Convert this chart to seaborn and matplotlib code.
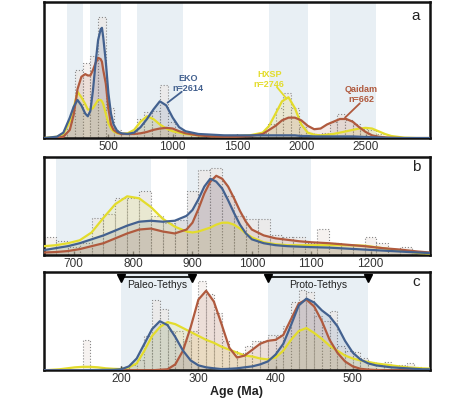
import numpy as np
import pandas as pd
import matplotlib
matplotlib.use('Agg')
import matplotlib.pyplot as plt
import seaborn as sns

# colours of the three samples
c_blue = '#43618f'
c_red = '#b05a3e'
c_yel = '#e3dc2c'
c_band = '#e8eff4'

# ---------------- panel a (0-3000 Ma) ----------------
x_a = [0, 100, 150, 200, 230, 260, 290, 320, 340, 360, 380, 400, 420, 440, 450, 460, 480,
       500, 520, 540, 570, 600, 650, 700, 750, 800, 850, 900, 950, 1000, 1050, 1100, 1200,
       1300, 1400, 1500, 1600, 1700, 1750, 1800, 1850, 1900, 1950, 2000, 2050, 2100, 2150,
       2200, 2250, 2300, 2350, 2400, 2450, 2500, 2550, 2600, 2650, 2700, 2800, 2900, 3000]
eko_a = [0, 0.01, 0.04, 0.15, 0.23, 0.28, 0.24, 0.18, 0.16, 0.20, 0.35, 0.55, 0.72, 0.80, 0.81, 0.74, 0.56,
         0.33, 0.18, 0.10, 0.05, 0.035, 0.03, 0.04, 0.08, 0.14, 0.21, 0.27, 0.24, 0.15, 0.08, 0.05, 0.03,
         0.025, 0.02, 0.02, 0.02, 0.02, 0.02, 0.02, 0.02, 0.02, 0.02, 0.015, 0.015, 0.012, 0.012,
         0.012, 0.012, 0.012, 0.012, 0.012, 0.01, 0.008, 0.006, 0.004, 0.002, 0.001, 0, 0, 0]
qai_a = [0, 0, 0.01, 0.06, 0.17, 0.36, 0.45, 0.47, 0.46, 0.46, 0.50, 0.55, 0.59, 0.58, 0.56, 0.50, 0.40,
         0.22, 0.10, 0.06, 0.04, 0.03, 0.03, 0.03, 0.035, 0.045, 0.06, 0.07, 0.075, 0.07, 0.05, 0.035, 0.02,
         0.012, 0.01, 0.01, 0.015, 0.03, 0.06, 0.09, 0.13, 0.15, 0.15, 0.13, 0.09, 0.065, 0.07,
         0.10, 0.12, 0.14, 0.14, 0.12, 0.08, 0.045, 0.02, 0.01, 0.005, 0.002, 0, 0, 0]
hxs_a = [0, 0.01, 0.03, 0.12, 0.22, 0.34, 0.30, 0.25, 0.21, 0.21, 0.22, 0.25, 0.28, 0.28, 0.27, 0.25, 0.18,
         0.11, 0.07, 0.05, 0.035, 0.03, 0.035, 0.06, 0.12, 0.16, 0.14, 0.10, 0.07, 0.05, 0.04, 0.03, 0.02,
         0.015, 0.015, 0.015, 0.02, 0.04, 0.09, 0.18, 0.27, 0.30, 0.22, 0.10, 0.04, 0.025, 0.02,
         0.025, 0.03, 0.04, 0.05, 0.06, 0.07, 0.075, 0.07, 0.05, 0.03, 0.015, 0.003, 0, 0]
hist_a_left = [120, 180, 240, 300, 360, 420, 480, 540, 600, 660, 720, 780, 840, 900, 960, 1020, 1080,
               1140, 1200, 1260, 1320, 1380, 1440, 1500, 1560, 1620, 1680, 1740, 1800, 1860, 1920,
               1980, 2040, 2100, 2160, 2220, 2280, 2340, 2400, 2460, 2520, 2580]
hist_a = [0.02, 0.12, 0.50, 0.55, 0.60, 0.89, 0.22, 0.06, 0.03, 0.03, 0.14, 0.19, 0.20, 0.39, 0.12, 0.05, 0.03,
          0.02, 0.02, 0.02, 0.015, 0.015, 0.02, 0.02, 0.02, 0.025, 0.04, 0.10, 0.22, 0.33, 0.22,
          0.08, 0.04, 0.03, 0.04, 0.12, 0.18, 0.13, 0.10, 0.07, 0.06, 0.03]
bands_a = [(180, 300), (360, 600), (720, 1080), (1750, 2050), (2220, 2580)]

# ---------------- panel b (650-1300 Ma) ----------------
x_b = [650, 670, 690, 710, 730, 750, 770, 790, 810, 830, 850, 870, 890, 900, 910, 920, 930, 940,
       950, 960, 970, 980, 990, 1000, 1020, 1040, 1060, 1080, 1100, 1130, 1160, 1190, 1220, 1250, 1280, 1300]
hxs_b = [0.09, 0.10, 0.12, 0.15, 0.23, 0.38, 0.52, 0.60, 0.58, 0.49, 0.37, 0.29, 0.24, 0.23, 0.24, 0.26, 0.28, 0.31,
         0.33, 0.33, 0.31, 0.27, 0.22, 0.18, 0.13, 0.11, 0.10, 0.10, 0.10, 0.10, 0.10, 0.095, 0.07, 0.045, 0.02, 0.015]
eko_b = [0.05, 0.07, 0.09, 0.12, 0.16, 0.20, 0.25, 0.30, 0.34, 0.35, 0.34, 0.35, 0.40, 0.46, 0.57, 0.70, 0.78, 0.75,
         0.68, 0.56, 0.43, 0.31, 0.22, 0.16, 0.12, 0.10, 0.09, 0.085, 0.08, 0.075, 0.065, 0.055, 0.045, 0.035, 0.025, 0.02]
qai_b = [0.025, 0.03, 0.04, 0.06, 0.09, 0.12, 0.17, 0.22, 0.26, 0.27, 0.24, 0.22, 0.26, 0.33, 0.47, 0.63, 0.75, 0.81,
         0.78, 0.70, 0.58, 0.45, 0.34, 0.26, 0.20, 0.17, 0.155, 0.14, 0.13, 0.12, 0.105, 0.09, 0.07, 0.055, 0.035, 0.025]
hist_b_left = [650, 670, 690, 710, 730, 750, 770, 790, 810, 830, 850, 870, 890, 910, 930, 950, 970, 990,
               1010, 1030, 1050, 1070, 1090, 1110, 1130, 1150, 1170, 1190, 1210, 1230, 1250, 1270]
hist_b = [0.18, 0.14, 0.08, 0.12, 0.38, 0.42, 0.58, 0.58, 0.65, 0.40, 0.33, 0.36, 0.65, 0.87, 0.89, 0.60, 0.40, 0.37,
          0.37, 0.20, 0.18, 0.18, 0.12, 0.27, 0.12, 0.10, 0.10, 0.18, 0.12, 0.06, 0.08, 0.03]
bands_b = [(670, 830), (890, 1100)]

# ---------------- panel c (100-600 Ma) ----------------
x_c = list(range(100, 601, 10))
hxs_c = [0, 0.005, 0.01, 0.02, 0.03, 0.035, 0.035, 0.03, 0.02, 0.015, 0.012, 0.03, 0.07, 0.20, 0.35, 0.44,
         0.49, 0.47, 0.43, 0.39, 0.35, 0.31, 0.28, 0.24, 0.21, 0.18, 0.15, 0.14, 0.12, 0.11, 0.13, 0.20,
         0.31, 0.40, 0.43, 0.38, 0.32, 0.25, 0.20, 0.15, 0.12, 0.10, 0.085, 0.07, 0.06, 0.05, 0.04, 0.03,
         0.025, 0.02, 0.017]
eko_c = [0, 0, 0, 0, 0, 0, 0.002, 0.003, 0.004, 0.005, 0.01, 0.04, 0.12, 0.27, 0.42, 0.50,
         0.46, 0.34, 0.20, 0.10, 0.05, 0.03, 0.02, 0.012, 0.015, 0.02, 0.03, 0.04, 0.06, 0.09, 0.16, 0.27,
         0.46, 0.66, 0.73, 0.69, 0.61, 0.55, 0.45, 0.30, 0.18, 0.11, 0.07, 0.05, 0.04, 0.03, 0.025, 0.02,
         0.015, 0.01, 0.01]
qai_c = [0, 0, 0, 0, 0, 0, 0, 0, 0, 0, 0, 0, 0, 0, 0, 0.005,
         0.01, 0.06, 0.20, 0.44, 0.72, 0.81, 0.70, 0.47, 0.23, 0.13, 0.15, 0.21, 0.27, 0.30, 0.31, 0.36,
         0.52, 0.68, 0.72, 0.65, 0.50, 0.31, 0.18, 0.09, 0.04, 0.015, 0.007, 0.003, 0, 0, 0, 0,
         0, 0, 0]
hist_c_left = [150, 200, 210, 220, 230, 240, 250, 260, 270, 280, 290, 300, 310, 320, 330, 340, 350, 360, 370,
               380, 390, 400, 410, 420, 430, 440, 450, 460, 470, 480, 490, 500, 510, 520, 530, 540, 550,
               560, 570, 580]
hist_c = [0.31, 0.03, 0.05, 0.10, 0.35, 0.72, 0.62, 0.40, 0.40, 0.30, 0.40, 0.91, 0.78, 0.58, 0.30, 0.20, 0.18,
          0.25, 0.30, 0.30, 0.36, 0.36, 0.45, 0.70, 0.82, 0.80, 0.55, 0.50, 0.60, 0.25, 0.20, 0.19, 0.12,
          0.08, 0.05, 0.08, 0.03, 0.05, 0.07, 0.03]
bands_c = [(200, 292, 'Paleo-Tethys'), (390, 520, 'Proto-Tethys')]

sns.set_theme(style='white')
plt.rcParams['font.family'] = ['Liberation Sans', 'DejaVu Sans']

fig = plt.figure(figsize=(4.74, 3.99), dpi=100)
ax_a = fig.add_axes([0.093, 0.654, 0.814, 0.341])
ax_b = fig.add_axes([0.093, 0.361, 0.814, 0.245])
ax_c = fig.add_axes([0.093, 0.072, 0.814, 0.246])


def draw_panel(ax, xs, curves, lefts, heights, width, bands, xlim, ticks, letter):
    for b in bands:
        ax.axvspan(b[0], b[1], color=c_band, zorder=0, lw=0)
    # histogram of the binned ages (bar heights already scaled to the panel)
    hist = pd.DataFrame({'age': [l + width / 2 for l in lefts], 'w': heights})
    sns.histplot(data=hist, x='age', weights='w', binwidth=width,
                 binrange=(min(lefts), max(lefts) + width), ax=ax,
                 color='#efe6e2', alpha=0.5, edgecolor='#8a8a8a', linewidth=0.8,
                 linestyle=':', zorder=1)
    for ys, col in curves:
        ax.fill_between(xs, ys, color=col, alpha=0.13, lw=0, zorder=2)
    for ys, col in curves:
        sns.lineplot(x=xs, y=ys, color=col, lw=1.6, ax=ax, zorder=3)
    ax.set_xlim(*xlim)
    ax.set_ylim(0, 1)
    ax.set_yticks([])
    ax.set_xticks(ticks)
    ax.set_xlabel('')
    ax.set_ylabel('')
    ax.tick_params(axis='x', direction='in', length=3, width=1, color='black',
                   labelsize=8.5, labelcolor='#333333', pad=2, bottom=True)
    for s in ax.spines.values():
        s.set_linewidth(1.8)
        s.set_color('#111111')
    ax.text(0.975, 0.9, letter, transform=ax.transAxes, ha='right', va='center',
            fontsize=11, color='#222222')


draw_panel(ax_a, x_a, [(hxs_a, c_yel), (qai_a, c_red), (eko_a, c_blue)],
           hist_a_left, hist_a, 60, bands_a, (0, 3000), [500, 1000, 1500, 2000, 2500], 'a')
draw_panel(ax_b, x_b, [(hxs_b, c_yel), (qai_b, c_red), (eko_b, c_blue)],
           hist_b_left, hist_b, 20, bands_b, (650, 1300), [700, 800, 900, 1000, 1100, 1200], 'b')
draw_panel(ax_c, x_c, [(hxs_c, c_yel), (qai_c, c_red), (eko_c, c_blue)],
           hist_c_left, hist_c, 10, [(b[0], b[1]) for b in bands_c], (100, 600), [200, 300, 400, 500], 'c')

# sample labels in panel a
ax_a.text(1120, 0.40, 'EKO\nn=2614', color=c_blue, fontsize=6.5, fontweight='bold',
          ha='center', va='center', linespacing=1.1)
ax_a.plot([960, 1070], [0.26, 0.34], color=c_blue, lw=1.3)
ax_a.text(1750, 0.43, 'HXSP\nn=2746', color=c_yel, fontsize=6.5, fontweight='bold',
          ha='center', va='center', linespacing=1.1)
ax_a.plot([1810, 1885], [0.375, 0.29], color=c_yel, lw=1.3)
ax_a.text(2465, 0.32, 'Qaidam\nn=662', color=c_red, fontsize=6.5, fontweight='bold',
          ha='center', va='center', linespacing=1.1)
ax_a.plot([2455, 2340], [0.255, 0.15], color=c_red, lw=1.3)

# tectonic ranges in panel c
for lo, hi, name in bands_c:
    ax_c.plot([lo, hi], [0.955, 0.955], color='black', lw=1.2, zorder=4)
    ax_c.plot([lo, hi], [0.935, 0.935], ls='none', marker='v', ms=6, color='black', zorder=5)
    ax_c.text((lo + hi) / 2, 0.87, name, ha='center', va='center', fontsize=7.5, color='#222222')

ax_c.set_xlabel('Age (Ma)', fontsize=9, fontweight='bold', color='#222222', labelpad=1)

fig.savefig('out.png', dpi=100)
